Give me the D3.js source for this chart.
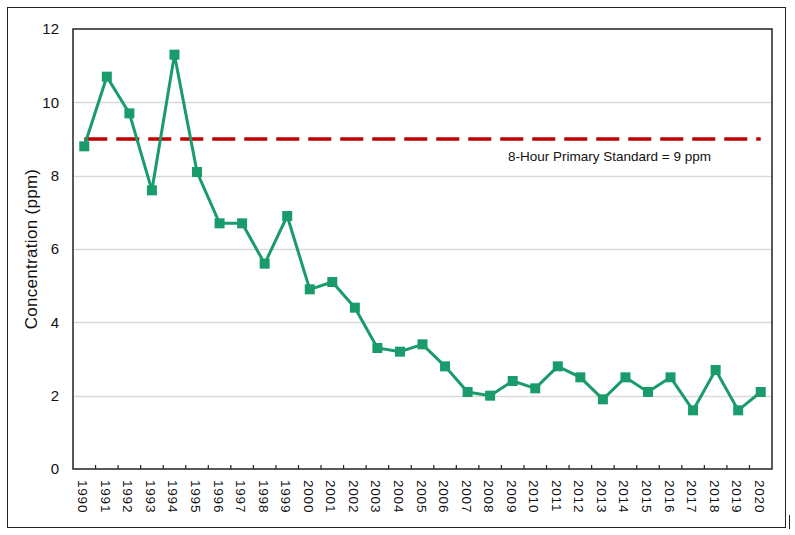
<!DOCTYPE html>
<html>
<head>
<meta charset="utf-8">
<script src="https://cdn.jsdelivr.net/npm/d3@7"></script>
<style>
  body { margin: 0; background: #fff; }
  svg { display: block; font-family: "Liberation Sans", Arial, sans-serif; }
</style>
</head>
<body>
<div id="chart"></div>
<script>
// data
const years = d3.range(1990, 2021).map(String);
const concentration = [8.8, 10.7, 9.7, 7.6, 11.3, 8.1, 6.7, 6.7, 5.6, 6.9,
  4.9, 5.1, 4.4, 3.3, 3.2, 3.4, 2.8, 2.1, 2.0, 2.4,
  2.2, 2.8, 2.5, 1.9, 2.5, 2.1, 2.5, 1.6, 2.7, 1.6, 2.1];
const yTicks = [0, 2, 4, 6, 8, 10, 12];
const standard = 9;
const standardLabel = "8-Hour Primary Standard = 9 ppm";

const width = 795, height = 535;
const margin = { top: 29, right: 23, bottom: 66, left: 73 };

const svg = d3.select("#chart").append("svg")
  .attr("width", width)
  .attr("height", height);

// outer frame
svg.append("rect")
  .attr("x", 7.5).attr("y", 7.5)
  .attr("width", 778).attr("height", 520)
  .attr("fill", "none").attr("stroke", "#222").attr("stroke-width", 1);
svg.append("line")
  .attr("x1", 789.5).attr("x2", 789.5).attr("y1", 515).attr("y2", 529)
  .attr("stroke", "#222");

const x = d3.scaleBand()
  .domain(years)
  .range([margin.left, width - margin.right]);

const y = d3.scaleLinear()
  .domain([0, 12])
  .range([height - margin.bottom, margin.top]);

const cx = d => x(d) + x.bandwidth() / 2;

// gridlines
svg.append("g")
  .selectAll("line")
  .data(yTicks.filter(t => t > 0 && t < 12))
  .join("line")
  .attr("x1", margin.left).attr("x2", width - margin.right)
  .attr("y1", d => Math.round(y(d)) + 0.5).attr("y2", d => Math.round(y(d)) + 0.5)
  .attr("stroke", "#d9d9d9").attr("stroke-width", 1.5);

// plot box
svg.append("rect")
  .attr("x", margin.left).attr("y", margin.top)
  .attr("width", width - margin.left - margin.right)
  .attr("height", height - margin.top - margin.bottom)
  .attr("fill", "none").attr("stroke", "#222").attr("stroke-width", 1.5);

// y axis labels
const yAxis = d3.axisLeft(y).tickValues(yTicks).tickSize(0).tickPadding(14);
svg.append("g")
  .attr("transform", `translate(${margin.left},0)`)
  .call(yAxis)
  .call(g => g.select(".domain").remove())
  .selectAll("text")
  .attr("font-size", 15)
  .attr("font-family", "Liberation Sans, Arial, sans-serif")
  .attr("fill", "#111");

// x axis: ticks at category boundaries, pointing inward
svg.append("g")
  .selectAll("line")
  .data(years.slice(1))
  .join("line")
  .attr("x1", d => x(d)).attr("x2", d => x(d))
  .attr("y1", y(0)).attr("y2", y(0) - 4)
  .attr("stroke", "#222").attr("stroke-width", 1.2);

svg.append("g")
  .selectAll("text")
  .data(years)
  .join("text")
  .attr("transform", d => `translate(${cx(d) - 6},${y(0) + 11}) rotate(90)`)
  .attr("font-size", 13.5)
  .attr("letter-spacing", 0.8)
  .attr("fill", "#111")
  .text(d => d);

// y axis title
svg.append("text")
  .attr("transform", `translate(37,${(margin.top + height - margin.bottom) / 2}) rotate(-90)`)
  .attr("text-anchor", "middle")
  .attr("font-size", 17)
  .attr("letter-spacing", 0.3)
  .attr("fill", "#111")
  .text("Concentration (ppm)");

// standard line
svg.append("line")
  .attr("x1", cx(years[0])).attr("x2", cx(years[years.length - 1]))
  .attr("y1", y(standard)).attr("y2", y(standard))
  .attr("stroke", "#c00000").attr("stroke-width", 3.5)
  .attr("stroke-dasharray", "23,9");

svg.append("text")
  .attr("x", 508).attr("y", y(standard) + 22)
  .attr("font-size", 13.5)
  .attr("fill", "#111")
  .text(standardLabel);

// series
const line = d3.line()
  .x((d, i) => cx(years[i]))
  .y(d => y(d));

svg.append("path")
  .datum(concentration)
  .attr("d", line)
  .attr("fill", "none")
  .attr("stroke", "#1a9b6c")
  .attr("stroke-width", 3);

svg.append("g")
  .selectAll("rect")
  .data(concentration)
  .join("rect")
  .attr("x", (d, i) => cx(years[i]) - 5)
  .attr("y", d => y(d) - 5)
  .attr("width", 10).attr("height", 10)
  .attr("fill", "#1a9b6c");
</script>
</body>
</html>
